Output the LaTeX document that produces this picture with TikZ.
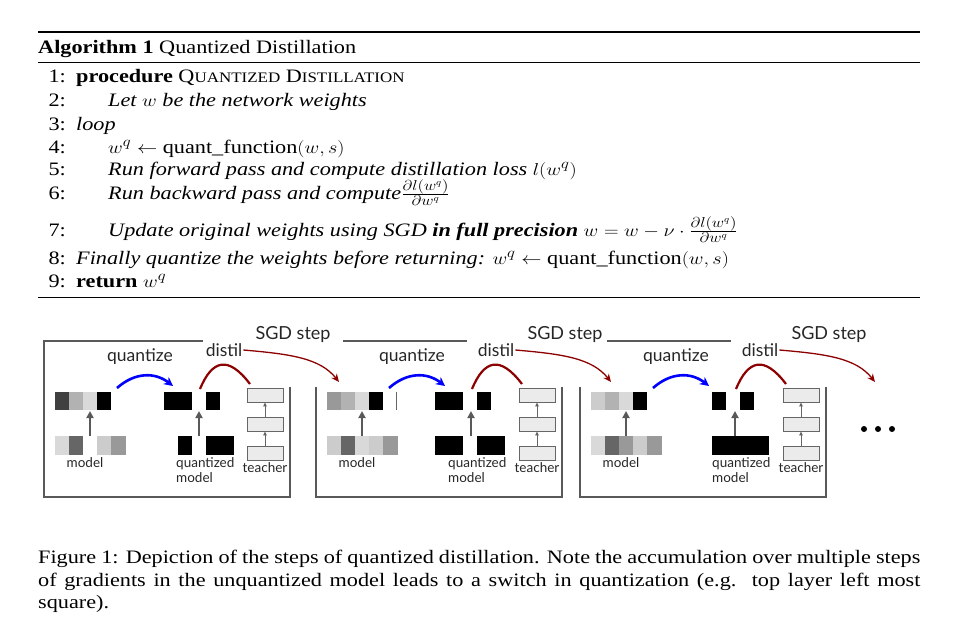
\documentclass[tikz,border=0pt]{standalone}
\usepackage{fontspec}
\setmainfont{Liberation Serif}
\newfontfamily\diag{Lato}
\usetikzlibrary{arrows.meta}
\newcommand\sx[1]{\scalebox{1.17}[1]{#1}}
\newcommand\fsc[2]{{\fontsize{19}{22}\selectfont #1}{\fontsize{14.5}{22}\selectfont #2}}
\begin{document}
\begin{tikzpicture}[x=1pt,y=-1pt,
  alg/.style={anchor=base west,inner sep=0pt,font=\fontsize{19}{22}\selectfont},
  num/.style={anchor=base east,inner sep=0pt,font=\fontsize{19}{22}\selectfont},
  lab/.style={font=\diag\fontsize{17.5}{18}\selectfont,inner sep=1pt,text=black!85},
  small/.style={font=\diag\fontsize{13.5}{15}\selectfont,inner sep=0pt,align=left,text=black!85},
  frame/.style={draw=black!65,line width=2pt},
  up/.style={draw=black!65,line width=2.2pt,-{Triangle[length=7pt,width=7pt]}},
  tup/.style={draw=black!60,line width=0.8pt,-{Triangle[length=4pt,width=3.5pt]}},
  tbox/.style={draw=black!60,fill=black!8,line width=0.8pt,minimum width=36pt,minimum height=14pt,inner sep=0pt},
  qarr/.style={draw=blue,line width=2.6pt,-{Stealth[length=9pt,width=9pt]}},
  darr/.style={draw=red!55!black,line width=2.2pt},
  sarr/.style={draw=red!55!black,line width=1.3pt,-{Stealth[length=8pt,width=7pt]}}
]
\useasboundingbox (0,0) rectangle (976,638);
% algorithm
\draw[line width=1.2pt] (38,32) -- (920,32);
\node[alg] (t) at (38,53) {\sx{\textbf{Algorithm 1} Quantized Distillation}};
\draw[line width=0.7pt] (38,62) -- (920,62);
\foreach \n/\y in {1/82,2/106,3/130,4/153,5/175,6/199,7/236,8/264,9/287}{\node[num] (n\n) at (66,\y) {\sx{\n:}};}
\node[alg] (l1) at (76,82) {\sx{\textbf{procedure} \fsc{Q}{UANTIZED} \fsc{D}{ISTILLATION}}};
\node[alg] (l2) at (108,106) {\sx{\textit{Let $w$ be the network weights}}};
\node[alg] (l3) at (76,130) {\sx{\textit{loop}}};
\node[alg] (l4) at (108,153) {\sx{$w^q \leftarrow \mathrm{quant\_function}(w,s)$}};
\node[alg] (l5) at (108,175) {\sx{\textit{Run forward pass and compute distillation loss} $l(w^q)$}};
\node[alg] (l6) at (108,199) {\sx{\textit{Run backward pass and compute}$\frac{\partial l(w^q)}{\partial w^q}$}};
\node[alg] (l7) at (108,236) {\sx{\textit{Update original weights using SGD \textbf{in full precision}} $w=w-\nu\cdot\frac{\partial l(w^q)}{\partial w^q}$}};
\node[alg] (l8) at (76,264) {\sx{\textit{Finally quantize the weights before returning:} $w^q \leftarrow \mathrm{quant\_function}(w,s)$}};
\node[alg] (l9) at (76,287) {\sx{\textbf{return} $w^q$}};
\draw[line width=0.7pt] (38,297) -- (920,297);
% panels
\foreach \dx/\ta/\tb/\tc/\td/\ba/\bb/\bc/\bd/\be/\first in
  {0/75/30/15/100/15/60/0/20/40/1, 272/40/30/15/100/20/60/15/20/40/0, 536/20/30/15/100/15/60/40/20/40/0}{
\begin{scope}[xshift=\dx]
 \ifnum\first=1
   \draw[frame] (203,341) -- (44,341) -- (44,497) -- (290,497) -- (290,387);
 \else
   \draw[frame] (44,387) -- (44,497) -- (290,497) -- (290,387);
   \draw[frame] (71,341) -- (195,341);
 \fi
 \fill[black!\ta] (55,392) rectangle (69,410);
 \fill[black!\tb] (69,392) rectangle (83,410);
 \fill[black!\tc] (83,392) rectangle (97,410);
 \fill[black!\td] (97,392) rectangle (111,410);
 \fill[black!\ba] (55,436) rectangle (69,455);
 \fill[black!\bb] (69,436) rectangle (83,455);
 \fill[black!\bc] (83,436) rectangle (97,455);
 \fill[black!\bd] (97,436) rectangle (111,455);
 \fill[black!\be] (111,436) rectangle (126,455);
 \coordinate (mb) at (90,436); \coordinate (mt) at (90,411);
 \draw[up] (mb) -- (mt);
 \node[small] (ml) at (85,463) {model};
 \coordinate (qb) at (199,436); \coordinate (qt) at (199,411);
 \draw[up] (qb) -- (qt);
 \node[small,anchor=north west] (ql) at (176,457) {quantized\\model};
 \node[tbox] (t1) at (265,395) {};
 \node[tbox] (t2) at (265,424) {};
 \node[tbox] (t3) at (265,453) {};
 \draw[tup] (t3) -- (t2); \draw[tup] (t2) -- (t1);
 \node[small] (tl) at (265,468) {teacher};
 \node[lab] (qz) at (140,357) {quantize};
 \coordinate (q1) at (117,388); \coordinate (q2) at (173,386);
 \draw[qarr] (q1) .. controls (135,372) and (155,372) .. (q2);
 \node[lab] (ds) at (224,350) {distil};
 \coordinate (d1) at (200,389); \coordinate (d2) at (250,384);
 \draw[darr] (d1) .. controls (212,360) and (228,355) .. (d2);
 \node[lab,font=\diag\fontsize{18}{19}\selectfont] (sg) at (293,335) {SGD step};
 \coordinate (s2) at (339,382);
 \draw[sarr] (ds.east) .. controls (290,354) and (320,358) .. (s2);
\end{scope}}
% quantized blocks
\fill (164,392) rectangle (192,410); \fill (206,392) rectangle (220,410);
\fill (178,436) rectangle (192,455); \fill (206,436) rectangle (234,455);
\fill (435,392) rectangle (463,410); \fill (477,392) rectangle (491,410);
\fill (435,436) rectangle (463,455); \fill (477,436) rectangle (505,455);
\fill (712,392) rectangle (726,410); \fill (740,392) rectangle (754,410);
\fill (712,436) rectangle (769,455);
\draw[black!60,line width=0.8pt] (396,392) -- (396,410);
% dots
\foreach \x/\nm in {864/da,878/db,892/dc}{\fill (\x,429) circle (3pt) coordinate (\nm);}
% caption
\node[anchor=north west,inner sep=0pt] (cap) at (38,550)
{\scalebox{1.17}[1]{\parbox[t]{754pt}{\fontsize{19}{22.6}\selectfont Figure 1: Depiction of the steps of quantized distillation. Note the accumulation over multiple steps of gradients in the unquantized model leads to a switch in quantization (e.g.\ \ top layer left most square).}}};
\end{tikzpicture}
\end{document}
